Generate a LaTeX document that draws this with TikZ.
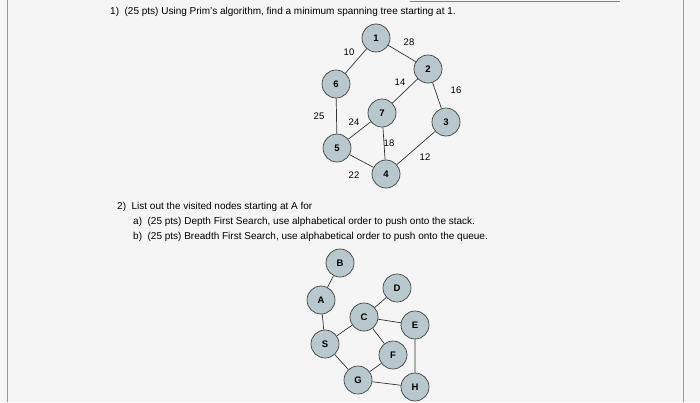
\documentclass[tikz,border=0pt]{standalone}
\usepackage{fontspec}
\setmainfont{Liberation Sans}
\begin{document}
\begin{tikzpicture}[x=1pt,y=-1pt,
  vtx/.style={circle,draw=black!75,line width=0.7pt,fill={rgb,255:red,184;green,200;blue,204},minimum size=28pt,inner sep=0pt,font=\fontsize{9.5}{10}\selectfont\bfseries},
  wt/.style={font=\fontsize{9.5}{10}\selectfont},
  txt/.style={anchor=west,font=\fontsize{10}{12}\selectfont,inner sep=0pt},
  edge/.style={draw=black!80,line width=0.7pt}]
\fill[black!4] (0,0) rectangle (700,402);
\useasboundingbox (0,0) rectangle (700,402);
\draw[black!40] (7,0) -- (7,402);
\draw[black!40] (683,0) -- (683,402);
\draw[black!50] (410,1) -- (620,1);
\node[txt] (t1) at (110,12) {1)\ \ (25 pts) Using Prim's algorithm, find a minimum spanning tree starting at 1.};
\node[vtx] (n1) at (376,38) {1};
\node[vtx] (n2) at (428,69) {2};
\node[vtx] (n6) at (336,84) {6};
\node[vtx] (n7) at (382,113) {7};
\node[vtx] (n3) at (446,122) {3};
\node[vtx] (n5) at (337,148) {5};
\node[vtx] (n4) at (386,174) {4};
\draw[edge] (n1)--(n6) (n1)--(n2) (n2)--(n7) (n2)--(n3) (n6)--(n5) (n7)--(n5) (n7)--(n4) (n3)--(n4) (n5)--(n4);
\node[wt] (w10) at (349,52) {10};
\node[wt] (w28) at (409,42) {28};
\node[wt] (w14) at (400,82) {14};
\node[wt] (w16) at (456,90) {16};
\node[wt] (w25) at (319,116) {25};
\node[wt] (w24) at (354,122) {24};
\node[wt] (w18) at (389,143) {18};
\node[wt] (w12) at (425,157) {12};
\node[wt] (w22) at (354,175) {22};
\node[txt] (t2) at (117,207) {2)\ \ List out the visited nodes starting at A for};
\node[txt] (t3) at (133,222) {a)\ \ (25 pts) Depth First Search, use alphabetical order to push onto the stack.};
\node[txt] (t4) at (133,237) {b)\ \ (25 pts) Breadth First Search, use alphabetical order to push onto the queue.};
\node[vtx] (B) at (340,263) {B};
\node[vtx] (A) at (321,300) {A};
\node[vtx] (D) at (397,288) {D};
\node[vtx] (C) at (364,317) {C};
\node[vtx] (E) at (415,325) {E};
\node[vtx] (S) at (325,344) {S};
\node[vtx] (F) at (393,355) {F};
\node[vtx] (G) at (358,380) {G};
\node[vtx] (H) at (415,387) {H};
\draw[edge] (B)--(A) (A)--(S) (S)--(C) (C)--(D) (C)--(E) (C)--(F) (S)--(G) (G)--(F) (G)--(H) (E)--(H);
\end{tikzpicture}
\end{document}
